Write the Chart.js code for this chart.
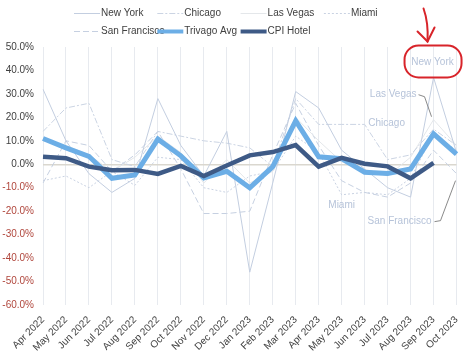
<!DOCTYPE html>
<html>
<head>
<meta charset="utf-8">
<script src="https://cdn.jsdelivr.net/npm/chart.js@4/dist/chart.umd.min.js"></script>
<style>
  html, body { margin: 0; padding: 0; background: #ffffff; }
  #wrap { width: 474px; height: 352px; position: relative; }
</style>
</head>
<body>
<div id="wrap"><canvas id="c" width="474" height="352"></canvas></div>
<script>
const months = ['Apr 2022', 'May 2022', 'Jun 2022', 'Jul 2022', 'Aug 2022', 'Sep 2022', 'Oct 2022', 'Nov 2022', 'Dec 2022',
    'Jan 2023', 'Feb 2023', 'Mar 2023', 'Apr 2023', 'May 2023', 'Jun 2023', 'Jul 2023', 'Aug 2023', 'Sep 2023', 'Oct 2023'];

// monthly change, %
const newYork = [32, 10, -4, -12, -6, 28, 8, -5, 14, -46, -8, 31, 24, 6, -2, -10, -14, 37, 5];
const chicago = [14, 24, 26, 2, -1, 14, 12, 10, 9, 7, -1, 28, 17, 17, 17, 2, 4, 15, 8];
const lasVegas = [10, 8, 4, -3, 3, 12, 5, -8, 2, -8, -3, 20, 10, 1, -2, -5, 3, 19, 8];
const miami = [-7, -5, -10, -3, -9, 3, 2, -10, -12, -5, -3, 12, 5, -13, -12, -13, -6, 13, 6];
const sanFrancisco = [-8, 10, 8, -3, 4, 14, -2, -21, -21, -20, 4, 26, 8, -7, -12, -14, -8, 6, -4];
const trivagoAvg = [11, 7, 3.4, -6, -4.6, 10.7, 3.6, -5.8, -3, -10, -1, 18.5, 3.2, 2.4, -3.4, -3.9, -2, 13, 4.3];
const cpiHotel = [3.2, 2.6, -1, -2.5, -2.4, -4.1, -0.7, -5, -0.5, 3.8, 5.2, 8.2, -1, 2.7, 0.2, -0.9, -6, 0.6, null];

const yTicks = [50, 40, 30, 20, 10, 0, -10, -20, -30, -40, -50, -60];

const FONT = '"Liberation Sans Narrow", "Liberation Sans", Arial, sans-serif';

const cityLine = (label, data, color, dash) => ({
    label, data, borderColor: color, backgroundColor: color, borderWidth: 1, borderDash: dash,
    pointRadius: 0, tension: 0, order: 3
});

const datasets = [
    cityLine('New York', newYork, '#c3cee0', []),
    cityLine('Chicago', chicago, '#cbd4e3', [6, 2, 2, 2]),
    cityLine('Las Vegas', lasVegas, '#e4e7ea', []),
    cityLine('Miami', miami, '#c9d2e2', [2, 2]),
    cityLine('San Francisco', sanFrancisco, '#c6d0e1', [6, 3]),
    { label: 'Trivago Avg', data: trivagoAvg, borderColor: '#6caee6', backgroundColor: '#6caee6', borderWidth: 5, pointRadius: 0, tension: 0, order: 2 },
    { label: 'CPI Hotel', data: cpiHotel, borderColor: '#3e5a86', backgroundColor: '#3e5a86', borderWidth: 4.5, pointRadius: 0, tension: 0, order: 1 }
];

// two-row legend laid out in fixed columns
const gridLegendPlugin = {
    id: 'gridLegend',
    afterDraw(chart) {
        const ctx = chart.ctx; ctx.save();
        ctx.font = '10px ' + FONT; ctx.textBaseline = 'middle'; ctx.fillStyle = '#404040';
        chart.data.datasets.forEach((ds, i) => {
            const col = i % 4, row = Math.floor(i / 4);
            const x0 = 74 + col * 83.3, yy = 13.5 + row * 18;
            ctx.strokeStyle = ds.borderColor; ctx.lineWidth = ds.borderWidth > 2 ? 4 : 1;
            ctx.setLineDash(ds.borderDash || []);
            ctx.beginPath(); ctx.moveTo(x0, yy); ctx.lineTo(x0 + 26, yy); ctx.stroke();
            ctx.setLineDash([]);
            ctx.fillText(ds.label, x0 + 27, yy);
        });
        ctx.restore();
    }
};

// Excel style data labels plus the red hand drawn marks
const cityLabelsPlugin = {
    id: 'cityLabels',
    afterDatasetsDraw(chart) {
        const { ctx, scales: { x, y } } = chart;
        const at = (i, v) => ({ px: x.getPixelForValue(i), py: y.getPixelForValue(v) });
        ctx.save();
        ctx.font = '10px ' + FONT; ctx.fillStyle = '#b6c3d9'; ctx.textBaseline = 'middle';

        const ny = at(17, newYork[17]);
        ctx.textAlign = 'center'; ctx.fillText('New York', ny.px - 1, ny.py - 15);

        const lv = at(17, lasVegas[17]);
        ctx.textAlign = 'right'; ctx.fillText('Las Vegas', lv.px - 17, lv.py - 25);
        ctx.strokeStyle = '#6b6b6b'; ctx.lineWidth = 0.8;
        ctx.beginPath(); ctx.moveTo(lv.px - 15, lv.py - 25); ctx.lineTo(lv.px - 9, lv.py - 23); ctx.lineTo(lv.px - 2, lv.py - 3); ctx.stroke();

        const ch = at(14, chicago[14]);
        ctx.textAlign = 'center'; ctx.fillText('Chicago', ch.px + 22, ch.py - 1);

        const mi = at(13, miami[13]);
        ctx.fillText('Miami', mi.px, mi.py + 10);

        const sf = at(18, sanFrancisco[18]);
        ctx.textAlign = 'right'; ctx.fillText('San Francisco', sf.px - 25, sf.py + 48);
        ctx.beginPath(); ctx.moveTo(sf.px - 22, sf.py + 48); ctx.lineTo(sf.px - 16, sf.py + 47); ctx.lineTo(sf.px - 1, sf.py + 7); ctx.stroke();

        // red hand drawn loop + arrow round the New York label
        ctx.strokeStyle = '#d8242a'; ctx.lineWidth = 2; ctx.lineCap = 'round';
        ctx.beginPath(); ctx.roundRect(ny.px - 29, ny.py - 32, 57, 32, 14); ctx.stroke();
        ctx.beginPath(); ctx.moveTo(ny.px - 10, ny.py - 69); ctx.quadraticCurveTo(ny.px - 5, ny.py - 55, ny.px - 6, ny.py - 36); ctx.stroke();
        ctx.beginPath(); ctx.moveTo(ny.px - 16, ny.py - 46); ctx.lineTo(ny.px - 6, ny.py - 36); ctx.lineTo(ny.px + 1, ny.py - 50); ctx.stroke();
        ctx.restore();
    }
};

new Chart(document.getElementById('c'), {
    type: 'line',
    data: { labels: months, datasets },
    options: {
        responsive: false, animation: false,
        layout: { padding: { top: 47, right: 17, bottom: 0, left: 0 } },
        plugins: { legend: { display: false }, tooltip: { enabled: false } },
        scales: {
            x: {
                afterFit: (s) => { s.height = 47; },
                grid: { color: '#e7eaef', drawTicks: false },
                border: { display: false },
                ticks: { color: '#404040', font: { size: 10, family: FONT }, minRotation: 45, maxRotation: 45, padding: 9, autoSkip: false }
            },
            y: {
                min: -60, max: 50,
                afterFit: (s) => { s.width = 43; },
                afterBuildTicks: (s) => { s.ticks = yTicks.map(v => ({ value: v })); },
                grid: { drawTicks: false, lineWidth: 1.5, color: (c) => c.tick && c.tick.value === 0 ? '#dad7cf' : 'rgba(0,0,0,0)' },
                border: { display: false },
                ticks: {
                    padding: 9, font: { size: 10, family: FONT },
                    color: (c) => c.tick && c.tick.value < 0 ? '#b0463c' : '#404040',
                    callback: (v) => v.toFixed(1) + '%'
                }
            }
        }
    },
    plugins: [gridLegendPlugin, cityLabelsPlugin]
});
</script>
</body>
</html>
